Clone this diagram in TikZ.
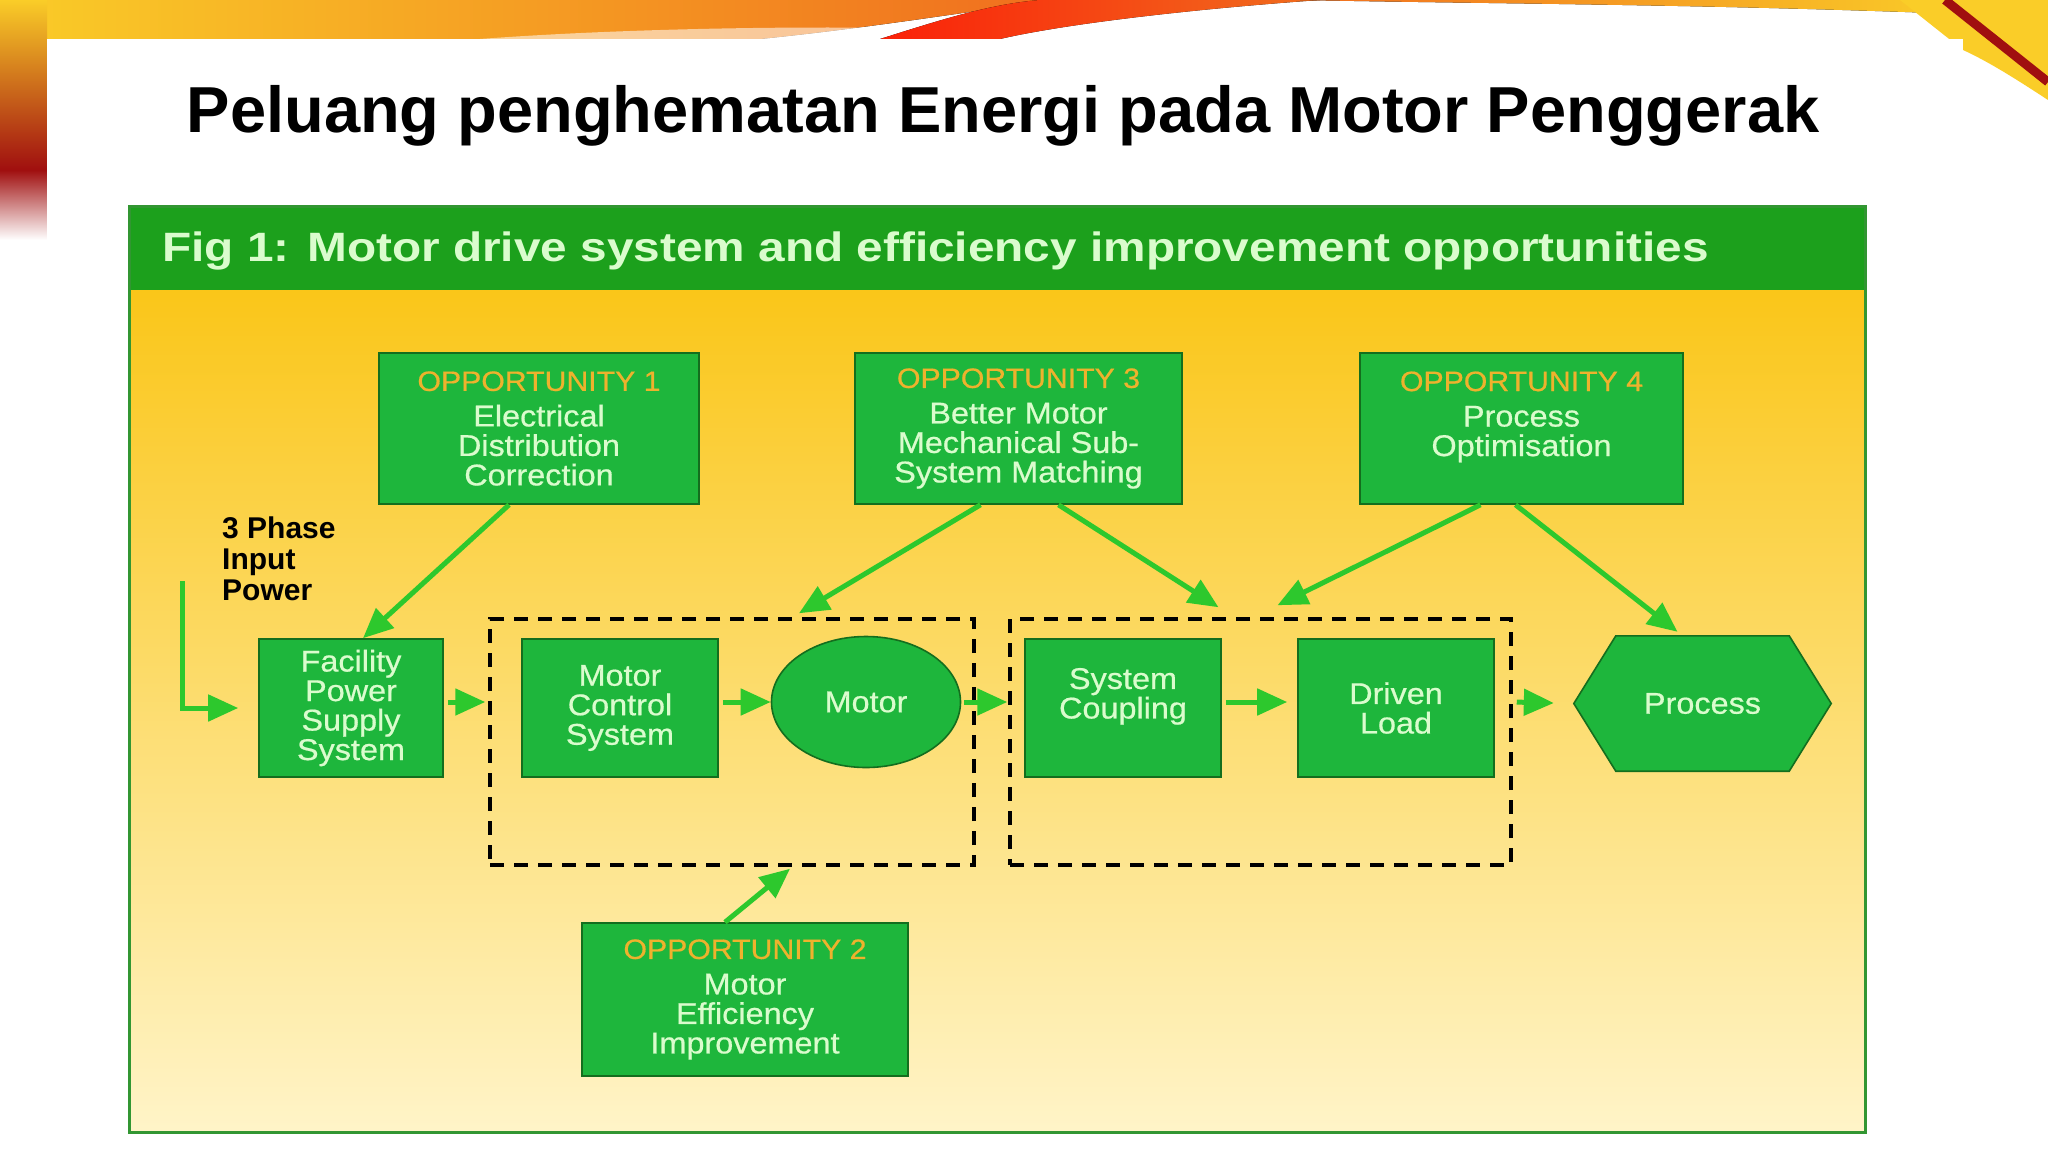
\documentclass[tikz,border=0pt]{standalone}
\usepackage{fontspec}
\setmainfont{Liberation Sans}
\newfontfamily\boxfont[FakeStretch=1.08,FakeBold=0.6]{Liberation Sans}
\newfontfamily\headfont[FakeStretch=1.165]{Liberation Sans}
\usetikzlibrary{arrows.meta,calc,shapes.geometric}
\definecolor{boxgreen}{RGB}{30,182,60}
\definecolor{boxedge}{RGB}{20,110,30}
\definecolor{headgreen}{RGB}{28,160,28}
\definecolor{framegreen}{RGB}{50,150,50}
\definecolor{arrgreen}{RGB}{45,200,45}
\definecolor{boxtext}{RGB}{218,252,205}
\definecolor{oppc}{RGB}{238,178,45}
\definecolor{ytop}{RGB}{250,198,25}
\definecolor{ymid}{RGB}{252,222,100}
\definecolor{ybot}{RGB}{255,244,200}
\definecolor{deco1}{RGB}{245,135,30}
\definecolor{deco2}{RGB}{250,205,40}
\definecolor{decored}{RGB}{160,15,15}
\definecolor{decoorange}{RGB}{240,110,30}
\newcommand{\oppline}[1]{{\boxfont\fontsize{28}{29.5}\selectfont\color{oppc}#1}}
\begin{document}
\begin{tikzpicture}[x=1pt,y=-1pt,
  gbox/.style={draw=boxedge, line width=1.6pt, fill=boxgreen, text=boxtext, align=center,
    inner sep=0pt, font=\boxfont\fontsize{30}{29.5}\selectfont},
  dashbox/.style={draw=black, line width=3.5pt, dash pattern=on 14pt off 10pt, inner sep=0pt},
  arr/.style={draw=arrgreen, line width=5pt, -{Triangle[length=30pt,width=26pt]}}
]
\useasboundingbox (0,0) rectangle (2048,1152);
\fill[white] (0,0) rectangle (2048,1152);
% --- decoration ---
\fill[left color=deco2, middle color=deco1, right color=decoorange] (0,0) -- (1050,0) .. controls (950,15) and (850,30) .. (760,39) -- (0,39) -- cycle;
\fill[white, opacity=0.55] (480,39) .. controls (600,30) and (760,26) .. (900,28) -- (880,39) -- cycle;
\fill[top color=deco2, bottom color=decored] (0,0) rectangle (47,170);
\fill[top color=decored, bottom color=white] (0,170) rectangle (47,240);
\fill[left color=red!70!decoorange, middle color=decored, right color=decoorange] (880,39) .. controls (940,20) and (990,4) .. (1040,0) -- (1320,0) .. controls (1180,10) and (1060,25) .. (1000,39) -- cycle;
\fill[left color=decoorange, right color=deco2] (1300,0) -- (1960,0) -- (1960,14) .. controls (1700,4) and (1500,4) .. (1300,0) -- cycle;
\fill[deco2] (1900,0) -- (2048,0) -- (2048,100) .. controls (2010,75) and (1985,60) .. (1963,50) -- cycle;
\draw[decored, line width=9pt] (1945,0) -- (2048,82);
% --- panel ---
\fill[white] (47,39) rectangle (1963,1152);
\node[font=\bfseries\fontsize{65}{72}\selectfont, anchor=base] (title) at (1003,132) {Peluang penghematan Energi pada Motor Penggerak};
% --- figure frame ---
\fill[top color=ytop, middle color=ymid, bottom color=ybot] (129,290) rectangle (1865,1132);
\fill[headgreen] (129,206) rectangle (1865,290);
\draw[framegreen, line width=3pt] (129,206) rectangle (1865,1132);
\node[font=\headfont\bfseries\fontsize{41}{45}\selectfont, text=boxtext, anchor=base west, inner sep=0pt] (fig) at (162,261) {Fig 1: Motor drive system and efficiency improvement opportunities};
% --- dashed groups ---
\node[dashbox, minimum width=484pt, minimum height=246pt] (grpA) at (732,742) {};
\node[dashbox, minimum width=501pt, minimum height=246pt] (grpB) at (1260.5,742) {};
% --- opportunity boxes ---
\node[gbox, minimum width=320pt, minimum height=151pt] (opp1) at (539,428.5) {\oppline{OPPORTUNITY 1}\\[6pt]Electrical\\Distribution\\Correction};
\node[gbox, minimum width=327pt, minimum height=151pt] (opp3) at (1018.5,428.5) {\oppline{OPPORTUNITY 3}\\[6pt]Better Motor\\Mechanical Sub-\\System Matching};
\node[gbox, minimum width=323pt, minimum height=151pt] (opp4) at (1521.5,428.5) {\oppline{OPPORTUNITY 4}\\[6pt]Process\\Optimisation\\\mbox{}};
\node[gbox, minimum width=326pt, minimum height=153pt] (opp2) at (745,999.5) {\oppline{OPPORTUNITY 2}\\[6pt]Motor\\Efficiency\\Improvement};
% --- main row ---
\node[gbox, minimum width=184pt, minimum height=138pt] (fac) at (351,708) {Facility\\Power\\Supply\\System};
\node[gbox, minimum width=196pt, minimum height=138pt] (mcs) at (620,708) {Motor\\Control\\System};
\node[gbox, ellipse, minimum width=189pt, minimum height=131pt] (motor) at (866,702) {Motor};
\node[gbox, minimum width=196pt, minimum height=138pt] (coup) at (1123,708) {System\\Coupling\\\mbox{}};
\node[gbox, minimum width=196pt, minimum height=138pt] (load) at (1396,708) {Driven\\Load};
\node[inner sep=0pt, minimum width=257pt, minimum height=135pt] (proc) at (1702.5,703.5) {};
\fill[boxgreen, draw=boxedge, line width=1.6pt] (proc.west) -- ([xshift=42pt]proc.north west) -- ([xshift=-42pt]proc.north east) -- (proc.east) -- ([xshift=-42pt]proc.south east) -- ([xshift=42pt]proc.south west) -- cycle;
\node[font=\boxfont\fontsize{30}{29.5}\selectfont, text=boxtext] (proctext) at (proc) {Process};
% --- input label ---
\node[font=\bfseries\fontsize{30}{31}\selectfont, align=left, anchor=north west, inner sep=0pt] (inp) at (222,517) {3 Phase\\Input\\Power};
\coordinate (pin) at (182,581);
% --- connectors ---
\draw[arr, shorten >=20pt] (pin) |- (fac.west);
\draw[arr, shorten <=4pt, shorten >=3pt] (fac.east |- motor) -- (grpA.west |- motor);
\draw[arr, shorten <=4pt] (mcs.east |- motor) -- (motor.west);
\draw[arr, shorten <=3pt, shorten >=1pt] (motor.east) -- (grpB.west |- motor);
\draw[arr, shorten <=4pt, shorten >=10pt] (coup.east |- motor) -- (load.west |- motor);
\draw[arr, shorten <=4pt, shorten >=20pt] (grpB.east |- motor) -- (proc.west);
\draw[arr] ([xshift=-30pt]opp1.south) -- ([xshift=12pt]fac.north);
\draw[arr] ([xshift=-38pt]opp3.south) -- ([xshift=67pt,yshift=4pt]grpA.north);
\draw[arr] ([xshift=40pt]opp3.south) -- ([xshift=-42pt,yshift=10pt]grpB.north);
\draw[arr] ([xshift=-41pt]opp4.south) -- ([xshift=17pt,yshift=12pt]grpB.north);
\draw[arr] ([xshift=-6pt]opp4.south) -- ([xshift=-25pt,yshift=4pt]proc.north);
\draw[arr] ([xshift=-20pt]opp2.north) -- ([xshift=58pt,yshift=-2pt]grpA.south);
\end{tikzpicture}
\end{document}
